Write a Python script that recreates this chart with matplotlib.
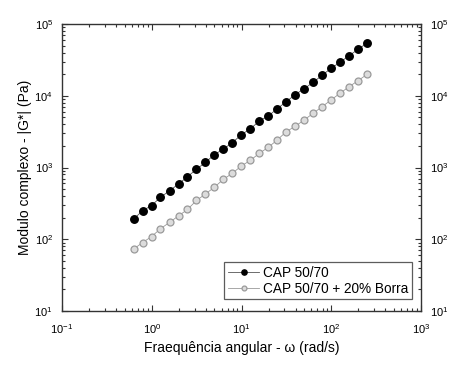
import numpy as np
import matplotlib
matplotlib.use('Agg')
import matplotlib.pyplot as plt
from matplotlib.ticker import LogLocator, FixedLocator, NullFormatter

plt.rcParams['font.family'] = ['Liberation Sans', 'DejaVu Sans']
plt.rcParams['mathtext.fontset'] = 'custom'
plt.rcParams['mathtext.rm'] = 'Liberation Sans'
plt.rcParams['mathtext.it'] = 'Liberation Sans'

# frequencia angular (rad/s)
omega = [0.628, 0.791, 0.995, 1.25, 1.58, 1.99, 2.50, 3.15, 3.96, 4.99,
         6.28, 7.91, 9.95, 12.5, 15.8, 19.9, 25.0, 31.5, 39.6, 49.9,
         62.8, 79.1, 99.5, 125, 158, 199, 251]

# |G*| (Pa)
cap = [191, 250, 295, 384, 474, 589, 745, 944, 1181, 1508,
       1811, 2217, 2866, 3442, 4446, 5222, 6600, 8265, 10350, 12540,
       15380, 19280, 24150, 29240, 36150, 44370, 54330]
cap_borra = [73, 90, 109, 140, 172, 212, 260, 347, 427, 531,
             685, 830, 1050, 1253, 1577, 1913, 2416, 3155, 3751, 4592,
             5690, 7034, 8730, 10820, 13370, 16220, 19900]

labels = ['CAP 50/70', 'CAP 50/70 + 20% Borra']

fig = plt.figure(figsize=(4.74, 3.72), dpi=100)
ax = fig.add_axes([62/474, 1-311/372, 359/474, 287/372])

ax.plot(omega, cap, '-', color='#555555', lw=0.6, marker='o', ms=5.4,
        mfc='black', mec='black', label=labels[0])
ax.plot(omega, cap_borra, '-', color='#999999', lw=0.6, marker='o', ms=5.0,
        mfc='#dcdcdc', mec='#9a9a9a', mew=0.9, label=labels[1])

ax.set_xscale('log')
ax.set_yscale('log')
ax.set_xlim(1e-1, 1e3)
ax.set_ylim(1e1, 1e5)

ax.xaxis.set_major_locator(FixedLocator([1e-1, 1e0, 1e1, 1e2, 1e3]))
ax.yaxis.set_major_locator(FixedLocator([1e1, 1e2, 1e3, 1e4, 1e5]))
ax.xaxis.set_minor_locator(LogLocator(base=10, subs=np.arange(2, 10)))
ax.yaxis.set_minor_locator(LogLocator(base=10, subs=np.arange(2, 10)))
ax.xaxis.set_minor_formatter(NullFormatter())
ax.yaxis.set_minor_formatter(NullFormatter())
ax.set_xticklabels(['$10^{-1}$', '$10^{0}$', '$10^{1}$', '$10^{2}$', '$10^{3}$'])
ax.set_yticklabels(['$10^{1}$', '$10^{2}$', '$10^{3}$', '$10^{4}$', '$10^{5}$'])

ax.tick_params(which='both', direction='in', top=True, right=True,
               labelright=True, labelsize=8, width=0.8, color='#333333')
ax.tick_params(which='major', length=4.5)
ax.tick_params(which='minor', length=2.5)
ax.tick_params(axis='x', which='major', pad=8)
ax.tick_params(axis='y', which='major', pad=6.5)
for s in ax.spines.values():
    s.set_linewidth(1.0)
    s.set_color('#333333')

ax.set_xlabel('Fraequência angular - ω (rad/s)', fontsize=10, labelpad=4)
ax.set_ylabel('Modulo complexo - |G*| (Pa)', fontsize=10, labelpad=2)

leg = ax.legend(loc='lower right', bbox_to_anchor=(0.975, 0.042),
                borderaxespad=0, fontsize=9.8, fancybox=False, frameon=True,
                edgecolor='#333333', markerscale=0.7, handlelength=2.3,
                handletextpad=0.3, labelspacing=0.15, borderpad=0.25)
leg.get_frame().set_linewidth(0.9)

fig.savefig('out.png', dpi=100)
